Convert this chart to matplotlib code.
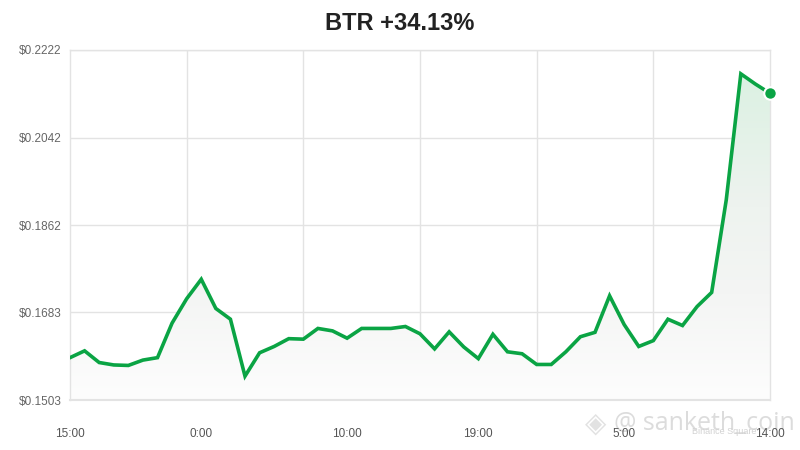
import matplotlib
matplotlib.use('Agg')
import matplotlib.pyplot as plt
import numpy as np
from matplotlib.colors import LinearSegmentedColormap
from matplotlib.patches import Polygon

plt.rcParams['font.family'] = ['Liberation Sans', 'DejaVu Sans']

# hourly BTR price
hours = list(range(49))
price = [0.1590, 0.1604, 0.1580, 0.1575, 0.1574, 0.1585, 0.1590, 0.1661,
         0.1711, 0.1751, 0.1691, 0.1669, 0.1552, 0.1600, 0.1613, 0.1629,
         0.1628, 0.1650, 0.1645, 0.1630, 0.1650, 0.1650, 0.1650, 0.1654,
         0.1639, 0.1608, 0.1643, 0.1612, 0.1588, 0.1638, 0.1602, 0.1598,
         0.1576, 0.1576, 0.1602, 0.1633, 0.1642, 0.1717, 0.1658, 0.1613,
         0.1625, 0.1669, 0.1656, 0.1695, 0.1724, 0.1914, 0.2173, 0.2152,
         0.2133]

ytick_vals = [0.1503, 0.1683, 0.1862, 0.2042, 0.2222]
ytick_labels = ['\\$0.1503', '\\$0.1683', '\\$0.1862', '\\$0.2042', '\\$0.2222']
xtick_pos = [0, 9, 19, 28, 38, 48]
xtick_labels = ['15:00', '0:00', '10:00', '19:00', '5:00', '14:00']
xgrid_pos = [0, 8, 16, 24, 32, 40, 48]

line_col = '#0aa444'
grid_col = '#e3e3e3'

fig = plt.figure(figsize=(8, 4.5), dpi=100)
ax = fig.add_axes([0.0875, 0.1111, 0.875, 0.7778])

ymin, ymax = ytick_vals[0], ytick_vals[-1]
ax.set_xlim(hours[0], hours[-1])
ax.set_ylim(ymin, ymax)

# gradient fill under the line
cmap = LinearSegmentedColormap.from_list('fill', [(0.0, '#fdfdfd'), (0.3, '#f4f5f4'),
                                                  (0.55, '#eef3ef'), (1.0, '#d8f1e0')])
grad = np.linspace(0, 1, 256).reshape(-1, 1)
im = ax.imshow(grad, cmap=cmap, aspect='auto', origin='lower',
               extent=[hours[0], hours[-1], ymin, ymax], zorder=1)
verts = [(hours[0], ymin)] + list(zip(hours, price)) + [(hours[-1], ymin)]
poly = Polygon(verts, closed=True, facecolor='none', edgecolor='none')
ax.add_patch(poly)
im.set_clip_path(poly)

ax.plot(hours, price, color=line_col, lw=2.6, zorder=3, solid_joinstyle='miter')
ax.plot(hours[-1], price[-1], 'o', ms=9, color=line_col, mec='white', mew=1.5,
        zorder=4, clip_on=False)

ax.set_yticks(ytick_vals)
ax.set_yticklabels(ytick_labels)
ax.set_xticks(xtick_pos)
ax.set_xticklabels(xtick_labels)
ax.set_xticks(xgrid_pos, minor=True)
ax.tick_params(which='both', length=0)
ax.tick_params(axis='y', pad=6, labelsize=8.5, labelcolor='#666666')
ax.tick_params(axis='x', pad=20, labelsize=8.5, labelcolor='#555555')
ax.grid(True, axis='y', which='major', color=grid_col, lw=1, zorder=0)
ax.grid(True, axis='x', which='minor', color=grid_col, lw=1, zorder=0)
ax.grid(False, axis='x', which='major')
for s in ax.spines.values():
    s.set_color(grid_col)
    s.set_linewidth(1)
ax.spines['bottom'].set_linewidth(1.5)
ax.set_axisbelow(True)

fig.text(0.5, 0.948, 'BTR +34.13%', ha='center', va='center',
         fontsize=17, fontweight='bold', color='#222222')

# watermark, kept behind the tick labels
fig.text(0.745, 0.058, '\u25c8', ha='center', va='center', fontsize=20,
         color='#e2e2e2', family=['DejaVu Sans'], zorder=-1)
fig.text(0.767, 0.058, '@ sanketh_coin', ha='left', va='center', fontsize=18,
         color='#dcdcdc', family=['Open Sans', 'DejaVu Sans'], zorder=-1)
fig.text(0.905, 0.042, 'Binance Square', ha='center', va='center', fontsize=6.5,
         color='#d2d2d2', zorder=-1)

fig.savefig('out.png', dpi=100)
